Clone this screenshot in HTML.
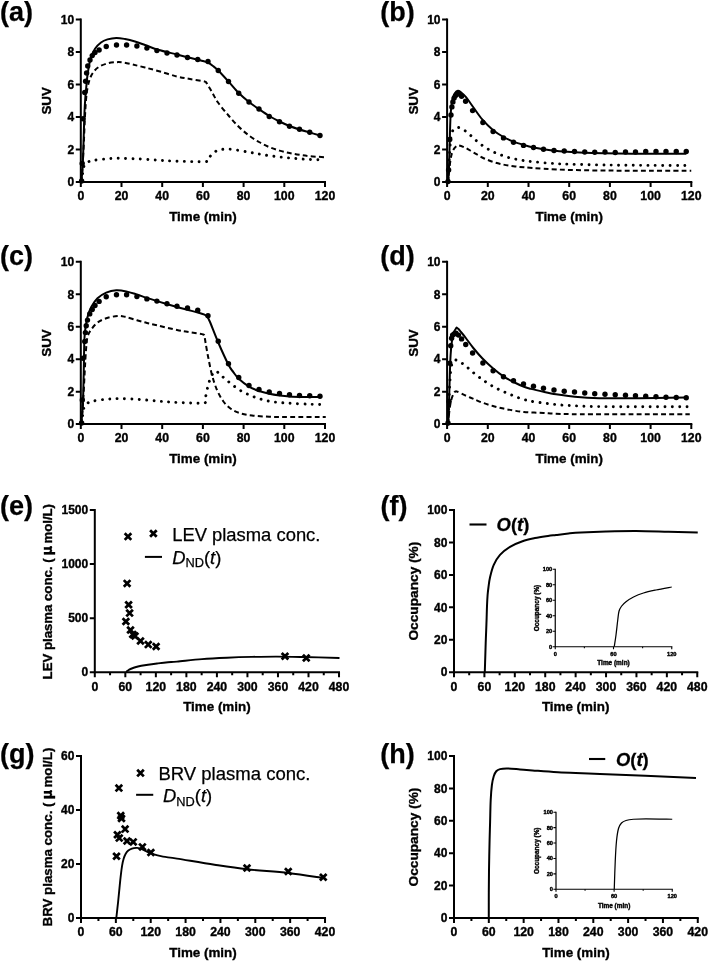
<!DOCTYPE html>
<html><head><meta charset="utf-8"><title>Figure</title>
<style>
html,body{margin:0;padding:0;background:#fff;}
svg{display:block;}
text{font-family:"Liberation Sans", Arial, sans-serif;fill:#000;}
.tk{font-size:12.0px;font-weight:bold;stroke:#000;stroke-width:0.35px;}
.tkx{font-size:12.3px;}
.tt{font-size:13.4px;font-weight:bold;stroke:#000;stroke-width:0.35px;}
.pl{font-size:27px;font-weight:bold;stroke:#000;stroke-width:0.25px;}
.lg{font-size:18.4px;stroke:#000;stroke-width:0.25px;}
.lgb{font-size:18.4px;font-weight:bold;stroke:#000;stroke-width:0.3px;}
.itk{font-size:5.7px;font-weight:bold;stroke:#000;stroke-width:0.4px;}
.itt{font-size:6.45px;font-weight:bold;stroke:#000;stroke-width:0.4px;}
.mu{font-family:"DejaVu Sans","Liberation Sans",sans-serif;font-weight:bold;}
</style></head><body>
<svg width="708" height="961" viewBox="0 0 708 961">
<rect width="708" height="961" fill="#fff"/>
<path d="M80.80,19.50 V182.10 H325.00" fill="none" stroke="#000" stroke-width="2.00" stroke-linecap="square"/>
<path d="M80.80,182.10 h-5.00 M80.80,149.58 h-5.00 M80.80,117.06 h-5.00 M80.80,84.54 h-5.00 M80.80,52.02 h-5.00 M80.80,19.50 h-5.00 M80.80,182.10 v5.00 M121.50,182.10 v5.00 M162.20,182.10 v5.00 M202.90,182.10 v5.00 M243.60,182.10 v5.00 M284.30,182.10 v5.00 M325.00,182.10 v5.00 " fill="none" stroke="#000" stroke-width="2.00"/>
<text x="74.20" y="186.30" text-anchor="end" class="tk">0</text>
<text x="74.20" y="153.78" text-anchor="end" class="tk">2</text>
<text x="74.20" y="121.26" text-anchor="end" class="tk">4</text>
<text x="74.20" y="88.74" text-anchor="end" class="tk">6</text>
<text x="74.20" y="56.22" text-anchor="end" class="tk">8</text>
<text x="74.20" y="23.70" text-anchor="end" class="tk">10</text>
<text x="80.80" y="200.40" text-anchor="middle" class="tk tkx">0</text>
<text x="121.50" y="200.40" text-anchor="middle" class="tk tkx">20</text>
<text x="162.20" y="200.40" text-anchor="middle" class="tk tkx">40</text>
<text x="202.90" y="200.40" text-anchor="middle" class="tk tkx">60</text>
<text x="243.60" y="200.40" text-anchor="middle" class="tk tkx">80</text>
<text x="284.30" y="200.40" text-anchor="middle" class="tk tkx">100</text>
<text x="325.00" y="200.40" text-anchor="middle" class="tk tkx">120</text>
<text x="202.90" y="221.30" text-anchor="middle" class="tt">Time (min)</text>
<text transform="translate(51.40,100.80) rotate(-90)" text-anchor="middle" class="tt">SUV</text>
<text x="0.10" y="21.00" class="pl">(a)</text>
<path d="M81.30,182.00 C81.52,179.67 82.27,173.33 82.60,168.00 C82.93,162.67 83.08,156.33 83.30,150.00 C83.52,143.67 83.70,136.33 83.90,130.00 C84.10,123.67 84.27,117.33 84.50,112.00 C84.73,106.67 85.02,102.00 85.30,98.00 C85.58,94.00 85.83,91.83 86.20,88.00 C86.57,84.17 86.77,79.92 87.50,75.00 C88.23,70.08 89.35,62.88 90.60,58.50 C91.85,54.12 93.27,51.42 95.00,48.75 C96.73,46.08 98.92,44.06 101.00,42.50 C103.08,40.94 104.96,40.17 107.50,39.40 C110.04,38.63 113.33,37.97 116.25,37.90 C119.17,37.83 121.88,38.40 125.00,39.00 C128.12,39.60 131.67,40.50 135.00,41.50 C138.33,42.50 141.17,43.62 145.00,45.00 C148.83,46.38 152.67,48.17 158.00,49.75 C163.33,51.33 172.08,53.26 177.00,54.50 C181.92,55.74 184.04,56.33 187.50,57.20 C190.96,58.07 195.00,59.02 197.75,59.70 C200.50,60.38 202.29,60.82 204.00,61.30 C205.71,61.78 206.50,61.82 208.00,62.60 C209.50,63.38 211.29,64.68 213.00,66.00 C214.71,67.32 215.67,67.92 218.25,70.50 C220.83,73.08 225.08,77.75 228.50,81.50 C231.92,85.25 235.33,89.58 238.75,93.00 C242.17,96.42 245.62,99.30 249.00,102.00 C252.38,104.70 255.62,106.87 259.00,109.20 C262.38,111.53 265.83,113.95 269.25,116.00 C272.67,118.05 276.12,119.83 279.50,121.50 C282.88,123.17 286.17,124.67 289.50,126.00 C292.83,127.33 296.12,128.42 299.50,129.50 C302.88,130.58 306.33,131.50 309.75,132.50 C313.17,133.50 318.29,135.00 320.00,135.50" fill="none" stroke="#000" stroke-width="2.00" stroke-linejoin="round"/>
<circle cx="81.60" cy="181.00" r="2.70"/>
<circle cx="82.20" cy="163.50" r="2.70"/>
<circle cx="83.10" cy="118.75" r="2.70"/>
<circle cx="84.75" cy="92.50" r="2.70"/>
<circle cx="85.60" cy="81.25" r="2.70"/>
<circle cx="86.60" cy="73.00" r="2.70"/>
<circle cx="87.75" cy="66.00" r="2.70"/>
<circle cx="90.00" cy="60.00" r="2.70"/>
<circle cx="92.25" cy="55.60" r="2.70"/>
<circle cx="95.00" cy="52.50" r="2.70"/>
<circle cx="99.10" cy="50.00" r="2.70"/>
<circle cx="106.25" cy="46.50" r="2.70"/>
<circle cx="116.50" cy="45.00" r="2.70"/>
<circle cx="126.60" cy="45.00" r="2.70"/>
<circle cx="136.90" cy="46.00" r="2.70"/>
<circle cx="146.90" cy="48.10" r="2.70"/>
<circle cx="156.90" cy="50.60" r="2.70"/>
<circle cx="167.00" cy="53.00" r="2.70"/>
<circle cx="177.00" cy="55.00" r="2.70"/>
<circle cx="187.50" cy="57.50" r="2.70"/>
<circle cx="197.75" cy="59.50" r="2.70"/>
<circle cx="208.00" cy="61.50" r="2.70"/>
<circle cx="218.25" cy="70.50" r="2.70"/>
<circle cx="228.50" cy="81.50" r="2.70"/>
<circle cx="238.75" cy="93.25" r="2.70"/>
<circle cx="249.00" cy="102.00" r="2.70"/>
<circle cx="259.00" cy="109.00" r="2.70"/>
<circle cx="269.25" cy="116.50" r="2.70"/>
<circle cx="279.50" cy="121.75" r="2.70"/>
<circle cx="289.50" cy="126.25" r="2.70"/>
<circle cx="299.50" cy="129.25" r="2.70"/>
<circle cx="309.75" cy="132.25" r="2.70"/>
<circle cx="320.00" cy="135.50" r="2.70"/>
<path d="M81.50,182.00 C81.83,176.67 82.95,160.33 83.50,150.00 C84.05,139.67 84.38,128.33 84.80,120.00 C85.22,111.67 85.55,105.33 86.00,100.00 C86.45,94.67 86.83,91.58 87.50,88.00 C88.17,84.42 89.00,81.17 90.00,78.50 C91.00,75.83 92.04,73.92 93.50,72.00 C94.96,70.08 96.42,68.45 98.75,67.00 C101.08,65.55 104.58,64.10 107.50,63.30 C110.42,62.50 113.75,62.35 116.25,62.20 C118.75,62.05 119.79,62.02 122.50,62.40 C125.21,62.78 128.75,63.65 132.50,64.50 C136.25,65.35 140.42,66.33 145.00,67.50 C149.58,68.67 154.67,70.00 160.00,71.50 C165.33,73.00 172.00,75.25 177.00,76.50 C182.00,77.75 185.42,78.17 190.00,79.00 C194.58,79.83 201.75,80.83 204.50,81.50 C207.25,82.17 205.83,82.25 206.50,83.00 C207.17,83.75 207.42,84.17 208.50,86.00 C209.58,87.83 211.42,91.25 213.00,94.00 C214.58,96.75 215.42,98.92 218.00,102.50 C220.58,106.08 225.00,111.42 228.50,115.50 C232.00,119.58 235.58,123.67 239.00,127.00 C242.42,130.33 245.67,133.00 249.00,135.50 C252.33,138.00 255.67,140.08 259.00,142.00 C262.33,143.92 265.58,145.57 269.00,147.00 C272.42,148.43 276.08,149.60 279.50,150.60 C282.92,151.60 286.17,152.30 289.50,153.00 C292.83,153.70 296.08,154.27 299.50,154.80 C302.92,155.33 305.75,155.80 310.00,156.20 C314.25,156.60 322.50,157.03 325.00,157.20" fill="none" stroke="#000" stroke-width="2.00" stroke-dasharray="4.9 3.2"/>
<path d="M82.00,181.00 C82.17,179.17 82.58,172.67 83.00,170.00 C83.42,167.33 83.83,166.25 84.50,165.00 C85.17,163.75 85.67,163.25 87.00,162.50 C88.33,161.75 89.50,161.08 92.50,160.50 C95.50,159.92 100.75,159.37 105.00,159.00 C109.25,158.63 112.17,158.30 118.00,158.30 C123.83,158.30 133.00,158.67 140.00,159.00 C147.00,159.33 153.83,159.93 160.00,160.30 C166.17,160.67 169.58,160.97 177.00,161.20 C184.42,161.43 199.50,161.90 204.50,161.70 C209.50,161.50 206.08,160.87 207.00,160.00 C207.92,159.13 208.83,157.75 210.00,156.50 C211.17,155.25 212.50,153.58 214.00,152.50 C215.50,151.42 217.00,150.57 219.00,150.00 C221.00,149.43 223.50,149.17 226.00,149.10 C228.50,149.03 230.17,149.08 234.00,149.60 C237.83,150.12 244.83,151.47 249.00,152.20 C253.17,152.93 255.67,153.43 259.00,154.00 C262.33,154.57 265.58,155.12 269.00,155.60 C272.42,156.08 276.08,156.50 279.50,156.90 C282.92,157.30 286.17,157.68 289.50,158.00 C292.83,158.32 296.08,158.55 299.50,158.80 C302.92,159.05 305.75,159.30 310.00,159.50 C314.25,159.70 322.50,159.92 325.00,160.00" fill="none" stroke="#000" stroke-width="2.90" stroke-linecap="round" stroke-dasharray="0.01 7.35"/>
<path d="M447.10,19.50 V182.10 H691.30" fill="none" stroke="#000" stroke-width="2.00" stroke-linecap="square"/>
<path d="M447.10,182.10 h-5.00 M447.10,149.58 h-5.00 M447.10,117.06 h-5.00 M447.10,84.54 h-5.00 M447.10,52.02 h-5.00 M447.10,19.50 h-5.00 M447.10,182.10 v5.00 M487.80,182.10 v5.00 M528.50,182.10 v5.00 M569.20,182.10 v5.00 M609.90,182.10 v5.00 M650.60,182.10 v5.00 M691.30,182.10 v5.00 " fill="none" stroke="#000" stroke-width="2.00"/>
<text x="440.50" y="186.30" text-anchor="end" class="tk">0</text>
<text x="440.50" y="153.78" text-anchor="end" class="tk">2</text>
<text x="440.50" y="121.26" text-anchor="end" class="tk">4</text>
<text x="440.50" y="88.74" text-anchor="end" class="tk">6</text>
<text x="440.50" y="56.22" text-anchor="end" class="tk">8</text>
<text x="440.50" y="23.70" text-anchor="end" class="tk">10</text>
<text x="447.10" y="200.40" text-anchor="middle" class="tk tkx">0</text>
<text x="487.80" y="200.40" text-anchor="middle" class="tk tkx">20</text>
<text x="528.50" y="200.40" text-anchor="middle" class="tk tkx">40</text>
<text x="569.20" y="200.40" text-anchor="middle" class="tk tkx">60</text>
<text x="609.90" y="200.40" text-anchor="middle" class="tk tkx">80</text>
<text x="650.60" y="200.40" text-anchor="middle" class="tk tkx">100</text>
<text x="691.30" y="200.40" text-anchor="middle" class="tk tkx">120</text>
<text x="569.20" y="221.30" text-anchor="middle" class="tt">Time (min)</text>
<text transform="translate(417.80,100.80) rotate(-90)" text-anchor="middle" class="tt">SUV</text>
<text x="380.30" y="21.00" class="pl">(b)</text>
<path d="M448.30,182.00 C448.45,178.33 448.93,167.83 449.20,160.00 C449.47,152.17 449.67,142.50 449.90,135.00 C450.13,127.50 450.30,120.17 450.60,115.00 C450.90,109.83 451.30,106.92 451.70,104.00 C452.10,101.08 452.45,99.33 453.00,97.50 C453.55,95.67 454.18,94.12 455.00,93.00 C455.82,91.88 456.98,90.97 457.90,90.80 C458.82,90.63 459.15,90.93 460.50,92.00 C461.85,93.07 463.83,94.62 466.00,97.20 C468.17,99.78 470.79,103.80 473.50,107.50 C476.21,111.20 479.02,115.65 482.25,119.40 C485.48,123.15 489.36,127.07 492.90,130.00 C496.44,132.93 500.07,135.07 503.50,137.00 C506.93,138.93 510.08,140.27 513.50,141.60 C516.92,142.93 520.67,144.02 524.00,145.00 C527.33,145.98 530.25,146.78 533.50,147.50 C536.75,148.22 540.08,148.77 543.50,149.30 C546.92,149.83 550.58,150.32 554.00,150.70 C557.42,151.08 558.88,151.27 564.00,151.60 C569.12,151.93 577.92,152.43 584.75,152.70 C591.58,152.97 594.96,153.02 605.00,153.20 C615.04,153.38 631.46,153.70 645.00,153.80 C658.54,153.90 679.38,153.80 686.25,153.80" fill="none" stroke="#000" stroke-width="2.00" stroke-linejoin="round"/>
<circle cx="448.00" cy="181.50" r="2.70"/>
<circle cx="448.60" cy="170.00" r="2.70"/>
<circle cx="449.75" cy="139.40" r="2.70"/>
<circle cx="451.00" cy="115.00" r="2.70"/>
<circle cx="451.90" cy="106.90" r="2.70"/>
<circle cx="452.90" cy="101.90" r="2.70"/>
<circle cx="454.10" cy="98.10" r="2.70"/>
<circle cx="455.60" cy="95.60" r="2.70"/>
<circle cx="457.25" cy="94.00" r="2.70"/>
<circle cx="459.10" cy="93.75" r="2.70"/>
<circle cx="461.60" cy="96.25" r="2.70"/>
<circle cx="465.60" cy="101.25" r="2.70"/>
<circle cx="472.60" cy="110.60" r="2.70"/>
<circle cx="482.90" cy="122.50" r="2.70"/>
<circle cx="493.10" cy="131.50" r="2.70"/>
<circle cx="503.50" cy="137.90" r="2.70"/>
<circle cx="513.50" cy="142.25" r="2.70"/>
<circle cx="523.50" cy="145.40" r="2.70"/>
<circle cx="533.50" cy="147.50" r="2.70"/>
<circle cx="543.50" cy="149.25" r="2.70"/>
<circle cx="554.00" cy="150.50" r="2.70"/>
<circle cx="564.25" cy="151.00" r="2.70"/>
<circle cx="574.50" cy="151.50" r="2.70"/>
<circle cx="584.75" cy="152.00" r="2.70"/>
<circle cx="594.75" cy="152.25" r="2.70"/>
<circle cx="605.00" cy="152.00" r="2.70"/>
<circle cx="615.25" cy="152.50" r="2.70"/>
<circle cx="625.50" cy="152.00" r="2.70"/>
<circle cx="635.50" cy="152.00" r="2.70"/>
<circle cx="645.75" cy="151.50" r="2.70"/>
<circle cx="656.00" cy="151.50" r="2.70"/>
<circle cx="666.00" cy="151.50" r="2.70"/>
<circle cx="676.25" cy="151.50" r="2.70"/>
<circle cx="686.25" cy="151.50" r="2.70"/>
<path d="M448.00,182.00 C448.20,178.33 448.82,166.50 449.20,160.00 C449.58,153.50 449.92,147.33 450.30,143.00 C450.68,138.67 450.88,136.33 451.50,134.00 C452.12,131.67 452.83,130.08 454.00,129.00 C455.17,127.92 456.71,127.23 458.50,127.50 C460.29,127.77 462.77,129.31 464.75,130.60 C466.73,131.89 468.52,133.62 470.40,135.25 C472.27,136.88 474.13,138.78 476.00,140.40 C477.87,142.03 479.62,143.57 481.60,145.00 C483.58,146.43 485.82,147.79 487.90,149.00 C489.98,150.21 491.92,151.25 494.10,152.25 C496.28,153.25 498.60,154.12 501.00,155.00 C503.40,155.88 506.00,156.80 508.50,157.50 C511.00,158.20 513.50,158.70 516.00,159.20 C518.50,159.70 521.00,160.12 523.50,160.50 C526.00,160.88 526.42,161.03 531.00,161.50 C535.58,161.97 544.33,162.83 551.00,163.30 C557.67,163.77 561.00,164.00 571.00,164.30 C581.00,164.60 597.67,164.92 611.00,165.10 C624.33,165.28 637.62,165.33 651.00,165.40 C664.38,165.47 684.54,165.48 691.25,165.50" fill="none" stroke="#000" stroke-width="2.90" stroke-linecap="round" stroke-dasharray="0.01 7.35"/>
<path d="M448.00,182.00 C448.25,179.67 449.00,172.17 449.50,168.00 C450.00,163.83 450.42,159.92 451.00,157.00 C451.58,154.08 452.17,152.25 453.00,150.50 C453.83,148.75 454.98,147.35 456.00,146.50 C457.02,145.65 457.43,145.13 459.10,145.40 C460.77,145.67 463.60,146.92 466.00,148.10 C468.40,149.28 470.79,150.93 473.50,152.50 C476.21,154.07 479.02,155.93 482.25,157.50 C485.48,159.07 489.36,160.72 492.90,161.90 C496.44,163.08 500.07,163.88 503.50,164.60 C506.93,165.32 510.08,165.80 513.50,166.25 C516.92,166.70 519.00,166.88 524.00,167.30 C529.00,167.73 535.67,168.35 543.50,168.80 C551.33,169.25 559.75,169.70 571.00,170.00 C582.25,170.30 597.67,170.47 611.00,170.60 C624.33,170.73 637.62,170.77 651.00,170.80 C664.38,170.83 684.54,170.80 691.25,170.80" fill="none" stroke="#000" stroke-width="2.00" stroke-dasharray="4.9 3.2"/>
<path d="M80.80,261.85 V424.10 H325.00" fill="none" stroke="#000" stroke-width="2.00" stroke-linecap="square"/>
<path d="M80.80,424.10 h-5.00 M80.80,391.65 h-5.00 M80.80,359.20 h-5.00 M80.80,326.75 h-5.00 M80.80,294.30 h-5.00 M80.80,261.85 h-5.00 M80.80,424.10 v5.00 M121.50,424.10 v5.00 M162.20,424.10 v5.00 M202.90,424.10 v5.00 M243.60,424.10 v5.00 M284.30,424.10 v5.00 M325.00,424.10 v5.00 " fill="none" stroke="#000" stroke-width="2.00"/>
<text x="74.20" y="428.30" text-anchor="end" class="tk">0</text>
<text x="74.20" y="395.85" text-anchor="end" class="tk">2</text>
<text x="74.20" y="363.40" text-anchor="end" class="tk">4</text>
<text x="74.20" y="330.95" text-anchor="end" class="tk">6</text>
<text x="74.20" y="298.50" text-anchor="end" class="tk">8</text>
<text x="74.20" y="266.05" text-anchor="end" class="tk">10</text>
<text x="80.80" y="442.40" text-anchor="middle" class="tk tkx">0</text>
<text x="121.50" y="442.40" text-anchor="middle" class="tk tkx">20</text>
<text x="162.20" y="442.40" text-anchor="middle" class="tk tkx">40</text>
<text x="202.90" y="442.40" text-anchor="middle" class="tk tkx">60</text>
<text x="243.60" y="442.40" text-anchor="middle" class="tk tkx">80</text>
<text x="284.30" y="442.40" text-anchor="middle" class="tk tkx">100</text>
<text x="325.00" y="442.40" text-anchor="middle" class="tk tkx">120</text>
<text x="202.90" y="463.30" text-anchor="middle" class="tt">Time (min)</text>
<text transform="translate(51.40,342.98) rotate(-90)" text-anchor="middle" class="tt">SUV</text>
<text x="0.00" y="264.80" class="pl">(c)</text>
<path d="M81.30,424.00 C81.50,421.67 82.18,414.83 82.50,410.00 C82.82,405.17 82.99,401.33 83.20,395.00 C83.41,388.67 83.55,381.25 83.75,372.00 C83.95,362.75 84.09,347.00 84.40,339.50 C84.71,332.00 85.08,330.75 85.60,327.00 C86.12,323.25 86.56,320.33 87.50,317.00 C88.44,313.67 89.58,310.12 91.25,307.00 C92.92,303.88 95.00,300.65 97.50,298.25 C100.00,295.85 103.12,293.93 106.25,292.60 C109.38,291.28 112.92,290.50 116.25,290.30 C119.58,290.10 122.81,290.70 126.25,291.40 C129.69,292.10 133.46,293.42 136.90,294.50 C140.34,295.58 143.38,296.75 146.90,297.90 C150.42,299.05 152.98,299.88 158.00,301.40 C163.02,302.92 172.08,305.60 177.00,307.00 C181.92,308.40 184.04,308.88 187.50,309.80 C190.96,310.72 194.92,311.70 197.75,312.50 C200.58,313.30 202.88,313.85 204.50,314.60 C206.12,315.35 206.58,315.77 207.50,317.00 C208.42,318.23 208.21,317.75 210.00,322.00 C211.79,326.25 215.17,335.37 218.25,342.50 C221.33,349.63 225.96,359.83 228.50,364.80 C231.04,369.77 231.79,369.98 233.50,372.30 C235.21,374.62 236.17,376.32 238.75,378.70 C241.33,381.08 245.62,384.55 249.00,386.60 C252.38,388.65 255.62,389.82 259.00,391.00 C262.38,392.18 265.83,392.97 269.25,393.70 C272.67,394.43 276.12,394.95 279.50,395.40 C282.88,395.85 285.25,396.15 289.50,396.40 C293.75,396.65 299.92,396.80 305.00,396.90 C310.08,397.00 317.50,396.98 320.00,397.00" fill="none" stroke="#000" stroke-width="2.00" stroke-linejoin="round"/>
<circle cx="81.60" cy="423.00" r="2.70"/>
<circle cx="82.30" cy="400.00" r="2.70"/>
<circle cx="83.10" cy="358.25" r="2.70"/>
<circle cx="84.75" cy="341.40" r="2.70"/>
<circle cx="85.40" cy="332.60" r="2.70"/>
<circle cx="86.25" cy="325.75" r="2.70"/>
<circle cx="87.50" cy="320.10" r="2.70"/>
<circle cx="89.75" cy="313.90" r="2.70"/>
<circle cx="92.25" cy="309.50" r="2.70"/>
<circle cx="95.00" cy="305.50" r="2.70"/>
<circle cx="99.10" cy="301.40" r="2.70"/>
<circle cx="106.25" cy="296.75" r="2.70"/>
<circle cx="116.50" cy="294.75" r="2.70"/>
<circle cx="126.60" cy="294.75" r="2.70"/>
<circle cx="136.90" cy="296.60" r="2.70"/>
<circle cx="146.90" cy="298.90" r="2.70"/>
<circle cx="156.90" cy="301.10" r="2.70"/>
<circle cx="167.00" cy="303.80" r="2.70"/>
<circle cx="177.00" cy="306.25" r="2.70"/>
<circle cx="187.50" cy="308.00" r="2.70"/>
<circle cx="197.75" cy="310.25" r="2.70"/>
<circle cx="208.00" cy="315.75" r="2.70"/>
<circle cx="218.25" cy="341.25" r="2.70"/>
<circle cx="228.50" cy="363.75" r="2.70"/>
<circle cx="238.75" cy="377.50" r="2.70"/>
<circle cx="249.00" cy="385.50" r="2.70"/>
<circle cx="259.00" cy="389.50" r="2.70"/>
<circle cx="269.25" cy="392.00" r="2.70"/>
<circle cx="279.50" cy="393.50" r="2.70"/>
<circle cx="289.50" cy="394.75" r="2.70"/>
<circle cx="299.50" cy="395.50" r="2.70"/>
<circle cx="309.75" cy="395.75" r="2.70"/>
<circle cx="320.00" cy="396.25" r="2.70"/>
<path d="M81.50,424.00 C81.83,419.17 82.95,404.00 83.50,395.00 C84.05,386.00 84.38,377.50 84.80,370.00 C85.22,362.50 85.55,355.50 86.00,350.00 C86.45,344.50 86.62,340.42 87.50,337.00 C88.38,333.58 89.58,331.90 91.25,329.50 C92.92,327.10 95.00,324.48 97.50,322.60 C100.00,320.73 102.92,319.35 106.25,318.25 C109.58,317.15 114.38,316.24 117.50,316.00 C120.62,315.76 121.77,316.10 125.00,316.80 C128.23,317.50 133.25,319.17 136.90,320.20 C140.55,321.23 143.57,322.15 146.90,323.00 C150.23,323.85 151.88,324.13 156.90,325.30 C161.92,326.47 171.48,328.83 177.00,330.00 C182.52,331.17 185.62,331.55 190.00,332.30 C194.38,333.05 200.82,333.72 203.25,334.50 C205.68,335.28 204.21,335.58 204.60,337.00 C204.99,338.42 204.99,339.58 205.60,343.00 C206.21,346.42 207.18,352.17 208.25,357.50 C209.32,362.83 210.54,369.58 212.00,375.00 C213.46,380.42 215.12,385.62 217.00,390.00 C218.88,394.38 220.96,398.12 223.25,401.25 C225.54,404.38 228.04,406.79 230.75,408.75 C233.46,410.71 235.96,411.88 239.50,413.00 C243.04,414.12 247.00,414.88 252.00,415.50 C257.00,416.12 263.25,416.50 269.50,416.75 C275.75,417.00 280.12,416.96 289.50,417.00 C298.88,417.04 319.71,417.00 325.75,417.00" fill="none" stroke="#000" stroke-width="2.00" stroke-dasharray="4.9 3.2"/>
<path d="M82.00,423.00 C82.17,421.17 82.58,414.75 83.00,412.00 C83.42,409.25 83.83,407.92 84.50,406.50 C85.17,405.08 85.67,404.38 87.00,403.50 C88.33,402.62 89.50,401.88 92.50,401.20 C95.50,400.52 100.42,399.83 105.00,399.40 C109.58,398.97 114.17,398.58 120.00,398.60 C125.83,398.62 133.33,399.06 140.00,399.50 C146.67,399.94 153.83,400.77 160.00,401.25 C166.17,401.73 169.79,402.09 177.00,402.40 C184.21,402.71 198.62,403.50 203.25,403.10 C207.88,402.70 204.38,401.14 204.80,400.00 C205.22,398.86 205.18,398.75 205.75,396.25 C206.32,393.75 207.29,388.38 208.25,385.00 C209.21,381.62 210.25,378.29 211.50,376.00 C212.75,373.71 214.00,371.21 215.75,371.25 C217.50,371.29 219.71,374.38 222.00,376.25 C224.29,378.12 226.58,380.21 229.50,382.50 C232.42,384.79 236.17,387.92 239.50,390.00 C242.83,392.08 246.17,393.54 249.50,395.00 C252.83,396.46 256.17,397.71 259.50,398.75 C262.83,399.79 266.17,400.62 269.50,401.25 C272.83,401.88 276.17,402.17 279.50,402.50 C282.83,402.83 284.50,402.96 289.50,403.25 C294.50,403.54 303.46,404.04 309.50,404.25 C315.54,404.46 323.04,404.46 325.75,404.50" fill="none" stroke="#000" stroke-width="2.90" stroke-linecap="round" stroke-dasharray="0.01 7.35"/>
<path d="M447.10,261.85 V424.10 H691.30" fill="none" stroke="#000" stroke-width="2.00" stroke-linecap="square"/>
<path d="M447.10,424.10 h-5.00 M447.10,391.65 h-5.00 M447.10,359.20 h-5.00 M447.10,326.75 h-5.00 M447.10,294.30 h-5.00 M447.10,261.85 h-5.00 M447.10,424.10 v5.00 M487.80,424.10 v5.00 M528.50,424.10 v5.00 M569.20,424.10 v5.00 M609.90,424.10 v5.00 M650.60,424.10 v5.00 M691.30,424.10 v5.00 " fill="none" stroke="#000" stroke-width="2.00"/>
<text x="440.50" y="428.30" text-anchor="end" class="tk">0</text>
<text x="440.50" y="395.85" text-anchor="end" class="tk">2</text>
<text x="440.50" y="363.40" text-anchor="end" class="tk">4</text>
<text x="440.50" y="330.95" text-anchor="end" class="tk">6</text>
<text x="440.50" y="298.50" text-anchor="end" class="tk">8</text>
<text x="440.50" y="266.05" text-anchor="end" class="tk">10</text>
<text x="447.10" y="442.40" text-anchor="middle" class="tk tkx">0</text>
<text x="487.80" y="442.40" text-anchor="middle" class="tk tkx">20</text>
<text x="528.50" y="442.40" text-anchor="middle" class="tk tkx">40</text>
<text x="569.20" y="442.40" text-anchor="middle" class="tk tkx">60</text>
<text x="609.90" y="442.40" text-anchor="middle" class="tk tkx">80</text>
<text x="650.60" y="442.40" text-anchor="middle" class="tk tkx">100</text>
<text x="691.30" y="442.40" text-anchor="middle" class="tk tkx">120</text>
<text x="569.20" y="463.30" text-anchor="middle" class="tt">Time (min)</text>
<text transform="translate(417.80,342.98) rotate(-90)" text-anchor="middle" class="tt">SUV</text>
<text x="380.30" y="264.80" class="pl">(d)</text>
<path d="M448.30,424.00 C448.43,420.00 448.85,408.17 449.10,400.00 C449.35,391.83 449.55,382.50 449.80,375.00 C450.05,367.50 450.27,360.50 450.60,355.00 C450.93,349.50 451.32,345.67 451.80,342.00 C452.28,338.33 452.70,335.40 453.50,333.00 C454.30,330.60 456.08,328.50 456.60,327.60 L456.60,327.60 C456.92,327.83 457.77,328.27 458.50,329.00 C459.23,329.73 459.75,330.46 461.00,332.00 C462.25,333.54 463.92,335.54 466.00,338.25 C468.08,340.96 470.79,344.92 473.50,348.25 C476.21,351.58 479.02,354.92 482.25,358.25 C485.48,361.58 489.36,365.23 492.90,368.25 C496.44,371.27 500.07,374.11 503.50,376.40 C506.93,378.69 510.08,380.27 513.50,382.00 C516.92,383.73 521.08,385.60 524.00,386.75 C526.92,387.90 527.75,388.07 531.00,388.90 C534.25,389.73 539.33,390.86 543.50,391.75 C547.67,392.64 551.83,393.54 556.00,394.25 C560.17,394.96 564.33,395.50 568.50,396.00 C572.67,396.50 576.83,396.92 581.00,397.25 C585.17,397.58 589.33,397.83 593.50,398.00 C597.67,398.17 599.75,398.21 606.00,398.25 C612.25,398.29 622.67,398.29 631.00,398.25 C639.33,398.21 646.79,398.12 656.00,398.00 C665.21,397.88 681.21,397.58 686.25,397.50" fill="none" stroke="#000" stroke-width="2" stroke-linejoin="round"/>
<circle cx="448.00" cy="423.00" r="2.70"/>
<circle cx="449.10" cy="401.40" r="2.70"/>
<circle cx="449.75" cy="363.25" r="2.70"/>
<circle cx="450.75" cy="345.75" r="2.70"/>
<circle cx="451.60" cy="338.25" r="2.70"/>
<circle cx="452.60" cy="335.10" r="2.70"/>
<circle cx="454.10" cy="333.90" r="2.70"/>
<circle cx="456.00" cy="333.25" r="2.70"/>
<circle cx="458.50" cy="335.10" r="2.70"/>
<circle cx="461.60" cy="338.90" r="2.70"/>
<circle cx="465.75" cy="344.50" r="2.70"/>
<circle cx="472.60" cy="353.00" r="2.70"/>
<circle cx="482.90" cy="363.00" r="2.70"/>
<circle cx="493.10" cy="370.75" r="2.70"/>
<circle cx="503.50" cy="376.75" r="2.70"/>
<circle cx="513.50" cy="380.75" r="2.70"/>
<circle cx="523.50" cy="383.90" r="2.70"/>
<circle cx="533.50" cy="386.25" r="2.70"/>
<circle cx="543.50" cy="388.25" r="2.70"/>
<circle cx="554.00" cy="390.00" r="2.70"/>
<circle cx="564.25" cy="391.25" r="2.70"/>
<circle cx="574.50" cy="392.00" r="2.70"/>
<circle cx="584.75" cy="393.00" r="2.70"/>
<circle cx="594.75" cy="393.75" r="2.70"/>
<circle cx="605.00" cy="394.25" r="2.70"/>
<circle cx="615.25" cy="394.75" r="2.70"/>
<circle cx="625.50" cy="395.25" r="2.70"/>
<circle cx="635.50" cy="395.75" r="2.70"/>
<circle cx="645.75" cy="396.25" r="2.70"/>
<circle cx="656.00" cy="396.75" r="2.70"/>
<circle cx="666.00" cy="397.25" r="2.70"/>
<circle cx="676.25" cy="397.50" r="2.70"/>
<circle cx="686.25" cy="397.75" r="2.70"/>
<path d="M448.00,424.00 C448.17,420.00 448.67,407.33 449.00,400.00 C449.33,392.67 449.62,385.58 450.00,380.00 C450.38,374.42 450.51,369.82 451.30,366.50 C452.09,363.18 453.13,360.75 454.75,360.10 C456.37,359.45 459.02,361.49 461.00,362.60 C462.98,363.71 464.73,365.23 466.60,366.75 C468.48,368.27 470.27,370.08 472.25,371.75 C474.23,373.42 476.52,375.25 478.50,376.75 C480.48,378.25 482.12,379.39 484.10,380.75 C486.08,382.11 488.27,383.61 490.40,384.90 C492.53,386.19 494.72,387.38 496.90,388.50 C499.08,389.62 501.25,390.60 503.50,391.60 C505.75,392.60 508.15,393.57 510.40,394.50 C512.65,395.43 514.73,396.37 517.00,397.20 C519.27,398.03 521.67,398.82 524.00,399.50 C526.33,400.18 527.75,400.67 531.00,401.25 C534.25,401.83 539.33,402.46 543.50,403.00 C547.67,403.54 551.83,404.08 556.00,404.50 C560.17,404.92 562.25,405.17 568.50,405.50 C574.75,405.83 583.08,406.29 593.50,406.50 C603.92,406.71 614.58,406.71 631.00,406.75 C647.42,406.79 681.83,406.75 692.00,406.75" fill="none" stroke="#000" stroke-width="2.90" stroke-linecap="round" stroke-dasharray="0.01 7.35"/>
<path d="M448.00,424.00 C448.25,421.67 449.00,413.83 449.50,410.00 C450.00,406.17 450.33,403.67 451.00,401.00 C451.67,398.33 452.57,395.60 453.50,394.00 C454.43,392.40 454.52,391.11 456.60,391.40 C458.68,391.69 463.18,394.50 466.00,395.75 C468.82,397.00 470.79,397.76 473.50,398.90 C476.21,400.04 479.02,401.42 482.25,402.60 C485.48,403.78 489.36,405.00 492.90,406.00 C496.44,407.00 500.07,407.85 503.50,408.60 C506.93,409.35 510.08,409.93 513.50,410.50 C516.92,411.07 519.00,411.58 524.00,412.00 C529.00,412.42 538.17,412.71 543.50,413.00 C548.83,413.29 549.75,413.54 556.00,413.75 C562.25,413.96 568.50,414.17 581.00,414.25 C593.50,414.33 612.88,414.25 631.00,414.25 C649.12,414.25 679.96,414.25 689.75,414.25" fill="none" stroke="#000" stroke-width="2.00" stroke-dasharray="4.9 3.2"/>
<path d="M94.80,510.00 V672.20 H339.02" fill="none" stroke="#000" stroke-width="2.00" stroke-linecap="square"/>
<path d="M94.80,672.20 h-5.00 M94.80,618.13 h-5.00 M94.80,564.07 h-5.00 M94.80,510.00 h-5.00 M94.80,672.20 v5.00 M125.33,672.20 v5.00 M155.86,672.20 v5.00 M186.38,672.20 v5.00 M216.91,672.20 v5.00 M247.44,672.20 v5.00 M277.97,672.20 v5.00 M308.50,672.20 v5.00 M339.02,672.20 v5.00 M110.06,672.20 v3.00 M140.59,672.20 v3.00 M171.12,672.20 v3.00 M201.65,672.20 v3.00 M232.18,672.20 v3.00 M262.70,672.20 v3.00 M293.23,672.20 v3.00 M323.76,672.20 v3.00 " fill="none" stroke="#000" stroke-width="2.00"/>
<text x="88.20" y="676.40" text-anchor="end" class="tk">0</text>
<text x="88.20" y="622.33" text-anchor="end" class="tk">500</text>
<text x="88.20" y="568.27" text-anchor="end" class="tk">1000</text>
<text x="88.20" y="514.20" text-anchor="end" class="tk">1500</text>
<text x="94.80" y="690.50" text-anchor="middle" class="tk tkx">0</text>
<text x="125.33" y="690.50" text-anchor="middle" class="tk tkx">60</text>
<text x="155.86" y="690.50" text-anchor="middle" class="tk tkx">120</text>
<text x="186.38" y="690.50" text-anchor="middle" class="tk tkx">180</text>
<text x="216.91" y="690.50" text-anchor="middle" class="tk tkx">240</text>
<text x="247.44" y="690.50" text-anchor="middle" class="tk tkx">300</text>
<text x="277.97" y="690.50" text-anchor="middle" class="tk tkx">360</text>
<text x="308.50" y="690.50" text-anchor="middle" class="tk tkx">420</text>
<text x="339.02" y="690.50" text-anchor="middle" class="tk tkx">480</text>
<text x="216.91" y="711.40" text-anchor="middle" class="tt">Time (min)</text>
<text transform="translate(52.20,591.70) rotate(-90)" text-anchor="middle" class="tt" style="font-size:13.20px">LEV plasma conc. (<tspan class="mu" dx="3.0">&#956;</tspan><tspan dx="2.2">mol/L)</tspan></text>
<text x="0.10" y="515.20" class="pl">(e)</text>
<path d="M126.10,671.90 C126.33,671.72 126.77,671.28 127.50,670.80 C128.23,670.32 128.75,669.72 130.50,669.00 C132.25,668.28 135.08,667.21 138.00,666.50 C140.92,665.79 144.67,665.27 148.00,664.75 C151.33,664.23 154.67,663.82 158.00,663.40 C161.33,662.98 164.83,662.55 168.00,662.25 C171.17,661.95 171.33,662.12 177.00,661.60 C182.67,661.08 193.67,659.75 202.00,659.10 C210.33,658.45 218.67,658.07 227.00,657.70 C235.33,657.33 243.67,657.08 252.00,656.90 C260.33,656.72 268.67,656.58 277.00,656.60 C285.33,656.62 291.58,656.77 302.00,657.00 C312.42,657.23 333.25,657.83 339.50,658.00" fill="none" stroke="#000" stroke-width="1.90" stroke-linejoin="round"/>
<path d="M124.70,533.30 l6.60,6.60 M124.70,539.90 l6.60,-6.60 M123.80,580.10 l6.60,6.60 M123.80,586.70 l6.60,-6.60 M125.30,601.45 l6.60,6.60 M125.30,608.05 l6.60,-6.60 M126.30,609.80 l6.60,6.60 M126.30,616.40 l6.60,-6.60 M122.60,618.20 l6.60,6.60 M122.60,624.80 l6.60,-6.60 M127.20,626.70 l6.60,6.60 M127.20,633.30 l6.60,-6.60 M129.45,631.10 l6.60,6.60 M129.45,637.70 l6.60,-6.60 M131.70,632.70 l6.60,6.60 M131.70,639.30 l6.60,-6.60 M137.20,637.70 l6.60,6.60 M137.20,644.30 l6.60,-6.60 M144.95,641.30 l6.60,6.60 M144.95,647.90 l6.60,-6.60 M152.80,643.20 l6.60,6.60 M152.80,649.80 l6.60,-6.60 M281.70,652.95 l6.60,6.60 M281.70,659.55 l6.60,-6.60 M302.95,654.70 l6.60,6.60 M302.95,661.30 l6.60,-6.60 " fill="none" stroke="#000" stroke-width="2.75"/>
<path d="M150.10,530.20 l6.60,6.60 M150.10,536.80 l6.60,-6.60 " fill="none" stroke="#000" stroke-width="2.75"/>
<path d="M144.9,556.9 H162" stroke="#000" stroke-width="2.0"/>
<text x="172.2" y="540.7" class="lg">LEV plasma conc.</text>
<text x="172.2" y="563.7" class="lg"><tspan font-style="italic">D</tspan><tspan font-size="12.8" dy="3.6">ND</tspan><tspan dy="-3.6">(</tspan><tspan font-style="italic">t</tspan>)</text>
<path d="M454.00,510.00 V672.20 H697.26" fill="none" stroke="#000" stroke-width="2.00" stroke-linecap="square"/>
<path d="M454.00,672.20 h-5.00 M454.00,639.76 h-5.00 M454.00,607.32 h-5.00 M454.00,574.88 h-5.00 M454.00,542.44 h-5.00 M454.00,510.00 h-5.00 M454.00,672.20 v5.00 M484.41,672.20 v5.00 M514.82,672.20 v5.00 M545.22,672.20 v5.00 M575.63,672.20 v5.00 M606.04,672.20 v5.00 M636.45,672.20 v5.00 M666.86,672.20 v5.00 M697.26,672.20 v5.00 M469.20,672.20 v3.00 M499.61,672.20 v3.00 M530.02,672.20 v3.00 M560.43,672.20 v3.00 M590.84,672.20 v3.00 M621.24,672.20 v3.00 M651.65,672.20 v3.00 M682.06,672.20 v3.00 " fill="none" stroke="#000" stroke-width="2.00"/>
<text x="447.40" y="676.40" text-anchor="end" class="tk">0</text>
<text x="447.40" y="643.96" text-anchor="end" class="tk">20</text>
<text x="447.40" y="611.52" text-anchor="end" class="tk">40</text>
<text x="447.40" y="579.08" text-anchor="end" class="tk">60</text>
<text x="447.40" y="546.64" text-anchor="end" class="tk">80</text>
<text x="447.40" y="514.20" text-anchor="end" class="tk">100</text>
<text x="454.00" y="690.50" text-anchor="middle" class="tk tkx">0</text>
<text x="484.41" y="690.50" text-anchor="middle" class="tk tkx">60</text>
<text x="514.82" y="690.50" text-anchor="middle" class="tk tkx">120</text>
<text x="545.22" y="690.50" text-anchor="middle" class="tk tkx">180</text>
<text x="575.63" y="690.50" text-anchor="middle" class="tk tkx">240</text>
<text x="606.04" y="690.50" text-anchor="middle" class="tk tkx">300</text>
<text x="636.45" y="690.50" text-anchor="middle" class="tk tkx">360</text>
<text x="666.86" y="690.50" text-anchor="middle" class="tk tkx">420</text>
<text x="697.26" y="690.50" text-anchor="middle" class="tk tkx">480</text>
<text x="575.63" y="711.40" text-anchor="middle" class="tt">Time (min)</text>
<text transform="translate(418.00,591.10) rotate(-90)" text-anchor="middle" class="tt" style="font-size:13.70px">Occupancy (%)</text>
<text x="380.60" y="515.00" class="pl">(f)</text>
<path d="M484.80,672.00 C484.88,669.33 485.15,660.83 485.30,656.00 C485.45,651.17 485.55,647.33 485.70,643.00 C485.85,638.67 486.05,634.00 486.20,630.00 C486.35,626.00 486.47,623.00 486.60,619.00 C486.73,615.00 486.83,610.00 487.00,606.00 C487.17,602.00 487.35,598.17 487.60,595.00 C487.85,591.83 488.10,589.93 488.50,587.00 C488.90,584.07 489.12,581.08 490.00,577.40 C490.88,573.72 492.08,568.65 493.75,564.90 C495.42,561.15 497.29,557.92 500.00,554.90 C502.71,551.88 506.25,549.08 510.00,546.80 C513.75,544.52 518.33,542.65 522.50,541.20 C526.67,539.75 530.75,538.97 535.00,538.10 C539.25,537.23 544.50,536.52 548.00,536.00 C551.50,535.48 552.58,535.42 556.00,535.00 C559.42,534.58 564.33,533.92 568.50,533.50 C572.67,533.08 574.75,532.83 581.00,532.50 C587.25,532.17 596.83,531.75 606.00,531.50 C615.17,531.25 625.58,530.96 636.00,531.00 C646.42,531.04 658.21,531.50 668.50,531.75 C678.79,532.00 692.88,532.38 697.75,532.50" fill="none" stroke="#000" stroke-width="2.00" stroke-linejoin="round"/>
<path d="M469.5,524.5 H486.5" stroke="#000" stroke-width="2.1"/>
<text x="496.6" y="531.2" class="lgb"><tspan font-style="italic">O</tspan>(<tspan font-style="italic">t</tspan>)</text>
<g class="ins">
<path d="M555.25,569.25 V646.75 H671.75" fill="none" stroke="#000" stroke-width="1.2" stroke-linecap="square"/>
<text x="552.25" y="648.75" text-anchor="end" class="itk">0</text>
<text x="552.25" y="633.25" text-anchor="end" class="itk">20</text>
<text x="552.25" y="617.75" text-anchor="end" class="itk">40</text>
<text x="552.25" y="602.25" text-anchor="end" class="itk">60</text>
<text x="552.25" y="586.75" text-anchor="end" class="itk">80</text>
<text x="552.25" y="571.25" text-anchor="end" class="itk">100</text>
<text x="555.25" y="655.75" text-anchor="middle" class="itk">0</text>
<text x="613.50" y="655.75" text-anchor="middle" class="itk">60</text>
<text x="671.75" y="655.75" text-anchor="middle" class="itk">120</text>
<path d="M555.25,646.75 h-2.6 M555.25,631.25 h-2.6 M555.25,615.75 h-2.6 M555.25,600.25 h-2.6 M555.25,584.75 h-2.6 M555.25,569.25 h-2.6 M555.25,646.75 v2.60 M584.38,646.75 v1.60 M613.50,646.75 v2.60 M642.62,646.75 v1.60 M671.75,646.75 v2.60 " fill="none" stroke="#000" stroke-width="1.1"/>
<text x="613.50" y="665.45" text-anchor="middle" class="itt">Time (min)</text>
<text transform="translate(538.55,608.00) rotate(-90)" text-anchor="middle" class="itt">Occupancy (%)</text>
<path d="M614.25,646.75 C614.54,644.79 615.42,639.46 616.00,635.00 C616.58,630.54 617.25,623.96 617.75,620.00 C618.25,616.04 618.38,613.54 619.00,611.25 C619.62,608.96 620.33,607.83 621.50,606.25 C622.67,604.67 624.00,603.29 626.00,601.75 C628.00,600.21 630.58,598.46 633.50,597.00 C636.42,595.54 639.75,594.17 643.50,593.00 C647.25,591.83 651.29,591.00 656.00,590.00 C660.71,589.00 669.12,587.50 671.75,587.00" fill="none" stroke="#000" stroke-width="1.25"/>
</g>
<path d="M81.00,756.10 V918.00 H325.02" fill="none" stroke="#000" stroke-width="2.00" stroke-linecap="square"/>
<path d="M81.00,918.00 h-5.00 M81.00,864.03 h-5.00 M81.00,810.07 h-5.00 M81.00,756.10 h-5.00 M81.00,918.00 v5.00 M115.86,918.00 v5.00 M150.72,918.00 v5.00 M185.58,918.00 v5.00 M220.44,918.00 v5.00 M255.30,918.00 v5.00 M290.16,918.00 v5.00 M325.02,918.00 v5.00 M98.43,918.00 v3.00 M133.29,918.00 v3.00 M168.15,918.00 v3.00 M203.01,918.00 v3.00 M237.87,918.00 v3.00 M272.73,918.00 v3.00 M307.59,918.00 v3.00 " fill="none" stroke="#000" stroke-width="2.00"/>
<text x="74.40" y="922.20" text-anchor="end" class="tk">0</text>
<text x="74.40" y="868.23" text-anchor="end" class="tk">20</text>
<text x="74.40" y="814.27" text-anchor="end" class="tk">40</text>
<text x="74.40" y="760.30" text-anchor="end" class="tk">60</text>
<text x="81.00" y="936.30" text-anchor="middle" class="tk tkx">0</text>
<text x="115.86" y="936.30" text-anchor="middle" class="tk tkx">60</text>
<text x="150.72" y="936.30" text-anchor="middle" class="tk tkx">120</text>
<text x="185.58" y="936.30" text-anchor="middle" class="tk tkx">180</text>
<text x="220.44" y="936.30" text-anchor="middle" class="tk tkx">240</text>
<text x="255.30" y="936.30" text-anchor="middle" class="tk tkx">300</text>
<text x="290.16" y="936.30" text-anchor="middle" class="tk tkx">360</text>
<text x="325.02" y="936.30" text-anchor="middle" class="tk tkx">420</text>
<text x="203.01" y="957.20" text-anchor="middle" class="tt">Time (min)</text>
<text transform="translate(52.20,837.05) rotate(-90)" text-anchor="middle" class="tt" style="font-size:13.30px">BRV plasma conc. (<tspan class="mu" dx="3.0">&#956;</tspan><tspan dx="2.2">mol/L)</tspan></text>
<text x="0.10" y="763.10" class="pl">(g)</text>
<path d="M116.30,918.00 C116.60,915.33 117.57,907.03 118.10,902.00 C118.63,896.97 119.05,892.23 119.50,887.80 C119.95,883.37 120.37,879.08 120.80,875.40 C121.23,871.72 121.62,868.50 122.10,865.70 C122.58,862.90 123.10,860.60 123.70,858.60 C124.30,856.60 124.93,855.03 125.70,853.70 C126.47,852.37 127.27,851.43 128.30,850.60 C129.33,849.77 130.57,849.15 131.90,848.70 C133.23,848.25 134.98,847.97 136.30,847.90 C137.62,847.83 138.18,847.77 139.80,848.30 C141.42,848.83 143.78,850.12 146.00,851.10 C148.22,852.08 150.27,853.28 153.10,854.20 C155.93,855.12 159.02,855.87 163.00,856.60 C166.98,857.33 168.42,857.24 177.00,858.60 C185.58,859.96 202.83,862.98 214.50,864.75 C226.17,866.52 234.71,867.88 247.00,869.25 C259.29,870.62 275.54,871.54 288.25,873.00 C300.96,874.46 317.42,877.17 323.25,878.00" fill="none" stroke="#000" stroke-width="1.90" stroke-linejoin="round"/>
<path d="M115.60,784.80 l6.60,6.60 M115.60,791.40 l6.60,-6.60 M117.45,812.30 l6.60,6.60 M117.45,818.90 l6.60,-6.60 M118.20,815.20 l6.60,6.60 M118.20,821.80 l6.60,-6.60 M121.80,825.80 l6.60,6.60 M121.80,832.40 l6.60,-6.60 M114.10,831.45 l6.60,6.60 M114.10,838.05 l6.60,-6.60 M115.95,834.80 l6.60,6.60 M115.95,841.40 l6.60,-6.60 M123.70,837.70 l6.60,6.60 M123.70,844.30 l6.60,-6.60 M129.95,838.60 l6.60,6.60 M129.95,845.20 l6.60,-6.60 M139.10,843.60 l6.60,6.60 M139.10,850.20 l6.60,-6.60 M147.60,849.20 l6.60,6.60 M147.60,855.80 l6.60,-6.60 M113.20,852.95 l6.60,6.60 M113.20,859.55 l6.60,-6.60 M243.70,864.70 l6.60,6.60 M243.70,871.30 l6.60,-6.60 M284.95,868.20 l6.60,6.60 M284.95,874.80 l6.60,-6.60 M319.95,873.95 l6.60,6.60 M319.95,880.55 l6.60,-6.60 " fill="none" stroke="#000" stroke-width="2.75"/>
<path d="M137.20,769.80 l6.60,6.60 M137.20,776.40 l6.60,-6.60 " fill="none" stroke="#000" stroke-width="2.75"/>
<path d="M136.1,794.8 H153.25" stroke="#000" stroke-width="2.0"/>
<text x="158.4" y="779.7" class="lg" style="font-size:18.55px">BRV plasma conc.</text>
<text x="163.0" y="802.2" class="lg"><tspan font-style="italic">D</tspan><tspan font-size="12.8" dy="3.6">ND</tspan><tspan dy="-3.6">(</tspan><tspan font-style="italic">t</tspan>)</text>
<path d="M454.00,756.10 V918.00 H697.77" fill="none" stroke="#000" stroke-width="2.00" stroke-linecap="square"/>
<path d="M454.00,918.00 h-5.00 M454.00,885.62 h-5.00 M454.00,853.24 h-5.00 M454.00,820.86 h-5.00 M454.00,788.48 h-5.00 M454.00,756.10 h-5.00 M454.00,918.00 v5.00 M488.82,918.00 v5.00 M523.65,918.00 v5.00 M558.47,918.00 v5.00 M593.30,918.00 v5.00 M628.12,918.00 v5.00 M662.94,918.00 v5.00 M697.77,918.00 v5.00 M471.41,918.00 v3.00 M506.24,918.00 v3.00 M541.06,918.00 v3.00 M575.88,918.00 v3.00 M610.71,918.00 v3.00 M645.53,918.00 v3.00 M680.36,918.00 v3.00 " fill="none" stroke="#000" stroke-width="2.00"/>
<text x="447.40" y="922.20" text-anchor="end" class="tk">0</text>
<text x="447.40" y="889.82" text-anchor="end" class="tk">20</text>
<text x="447.40" y="857.44" text-anchor="end" class="tk">40</text>
<text x="447.40" y="825.06" text-anchor="end" class="tk">60</text>
<text x="447.40" y="792.68" text-anchor="end" class="tk">80</text>
<text x="447.40" y="760.30" text-anchor="end" class="tk">100</text>
<text x="454.00" y="936.30" text-anchor="middle" class="tk tkx">0</text>
<text x="488.82" y="936.30" text-anchor="middle" class="tk tkx">60</text>
<text x="523.65" y="936.30" text-anchor="middle" class="tk tkx">120</text>
<text x="558.47" y="936.30" text-anchor="middle" class="tk tkx">180</text>
<text x="593.30" y="936.30" text-anchor="middle" class="tk tkx">240</text>
<text x="628.12" y="936.30" text-anchor="middle" class="tk tkx">300</text>
<text x="662.94" y="936.30" text-anchor="middle" class="tk tkx">360</text>
<text x="697.77" y="936.30" text-anchor="middle" class="tk tkx">420</text>
<text x="575.88" y="957.20" text-anchor="middle" class="tt">Time (min)</text>
<text transform="translate(418.00,837.05) rotate(-90)" text-anchor="middle" class="tt" style="font-size:13.70px">Occupancy (%)</text>
<text x="380.30" y="763.10" class="pl">(h)</text>
<path d="M488.80,918.00 C488.80,914.17 488.77,903.00 488.80,895.00 C488.83,887.00 488.87,879.17 489.00,870.00 C489.13,860.83 489.42,848.00 489.60,840.00 C489.78,832.00 489.92,828.67 490.10,822.00 C490.28,815.33 490.40,806.17 490.70,800.00 C491.00,793.83 491.39,788.96 491.90,785.00 C492.41,781.04 493.02,778.54 493.75,776.25 C494.48,773.96 495.21,772.44 496.25,771.25 C497.29,770.06 498.12,769.56 500.00,769.10 C501.88,768.64 504.17,768.45 507.50,768.50 C510.83,768.55 515.83,769.08 520.00,769.40 C524.17,769.72 526.17,769.92 532.50,770.40 C538.83,770.88 546.75,771.67 558.00,772.25 C569.25,772.83 577.00,772.94 600.00,773.90 C623.00,774.86 680.00,777.32 696.00,778.00" fill="none" stroke="#000" stroke-width="2.00" stroke-linejoin="round"/>
<path d="M589,759 H605.25" stroke="#000" stroke-width="2.1"/>
<text x="616" y="766" class="lgb"><tspan font-style="italic">O</tspan>(<tspan font-style="italic">t</tspan>)</text>
<g class="ins">
<path d="M556.00,812.25 V889.25 H672.25" fill="none" stroke="#000" stroke-width="1.2" stroke-linecap="square"/>
<text x="553.00" y="891.25" text-anchor="end" class="itk">0</text>
<text x="553.00" y="875.85" text-anchor="end" class="itk">20</text>
<text x="553.00" y="860.45" text-anchor="end" class="itk">40</text>
<text x="553.00" y="845.05" text-anchor="end" class="itk">60</text>
<text x="553.00" y="829.65" text-anchor="end" class="itk">80</text>
<text x="553.00" y="814.25" text-anchor="end" class="itk">100</text>
<text x="556.00" y="898.25" text-anchor="middle" class="itk">0</text>
<text x="614.12" y="898.25" text-anchor="middle" class="itk">60</text>
<text x="672.25" y="898.25" text-anchor="middle" class="itk">120</text>
<path d="M556.00,889.25 h-2.6 M556.00,873.85 h-2.6 M556.00,858.45 h-2.6 M556.00,843.05 h-2.6 M556.00,827.65 h-2.6 M556.00,812.25 h-2.6 M556.00,889.25 v2.60 M585.06,889.25 v1.60 M614.12,889.25 v2.60 M643.19,889.25 v1.60 M672.25,889.25 v2.60 " fill="none" stroke="#000" stroke-width="1.1"/>
<text x="614.12" y="907.95" text-anchor="middle" class="itt">Time (min)</text>
<text transform="translate(539.30,850.75) rotate(-90)" text-anchor="middle" class="itt">Occupancy (%)</text>
<path d="M614.25,889.25 C614.42,884.54 614.88,869.04 615.25,861.00 C615.62,852.96 615.96,846.42 616.50,841.00 C617.04,835.58 617.67,831.50 618.50,828.50 C619.33,825.50 620.25,824.33 621.50,823.00 C622.75,821.67 624.00,821.12 626.00,820.50 C628.00,819.88 630.17,819.54 633.50,819.25 C636.83,818.96 639.54,818.75 646.00,818.75 C652.46,818.75 667.88,819.17 672.25,819.25" fill="none" stroke="#000" stroke-width="1.25"/>
</g>
</svg>
</body></html>
